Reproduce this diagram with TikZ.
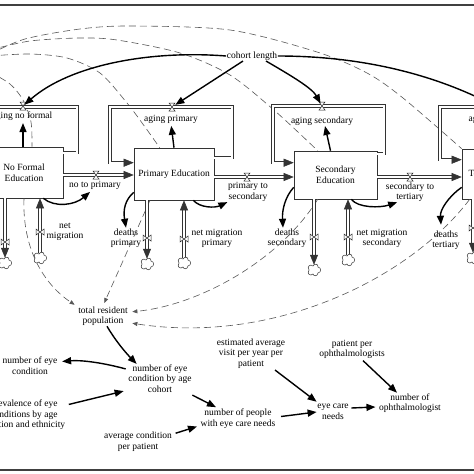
\documentclass[tikz,border=0pt]{standalone}
\usepackage{fontspec}
\setmainfont{Liberation Serif}
\usetikzlibrary{arrows.meta,calc}
\begin{document}
\begin{tikzpicture}[x=1pt,y=-1pt,
 lbl/.style={font=\fontsize{9.5}{10.5}\selectfont, align=center, inner sep=0.5pt},
 stock/.style={draw=black!80, line width=0.6pt, fill=white, font=\fontsize{9.5}{11}\selectfont, align=center, inner sep=0pt},
 pipe/.style={draw=black!80, line width=0.55pt, double=white, double distance=2pt},
 ptip/.style={-{Triangle[length=10pt,width=8pt]}},
 link/.style={line width=1.4pt, -{Triangle[length=9pt,width=7pt]}},
 dlink/.style={draw=black!65, line width=0.6pt, dash pattern=on 7pt off 4pt},
 dtip/.style={-{Triangle[length=5pt,width=4pt]}},
 cloudy/.style={circle, minimum size=10pt, inner sep=0pt},
 cloudpic/.pic={\draw[draw=black!80, fill=white, line width=0.5pt]
   (-5,0) .. controls (-7.5,-3.5) and (-3.5,-6.5) .. (-1,-4)
   .. controls (0,-6.5) and (4.5,-6.5) .. (4,-3)
   .. controls (7.5,-2.5) and (7.5,2.5) .. (4,3)
   .. controls (3.5,6.5) and (-0.5,6.5) .. (-1,4)
   .. controls (-3.5,6.5) and (-7.5,4) .. (-5,0) -- cycle;},
 valveh/.pic={\draw[draw=black!85, fill=white, line width=0.5pt] (-3,-4) -- (3,-4) -- (-3,4) -- (3,4) -- cycle;},
 valvev/.pic={\draw[draw=black!85, fill=white, line width=0.5pt] (-4,-3) -- (-4,3) -- (4,-3) -- (4,3) -- cycle;}
]
\useasboundingbox (0,0) rectangle (474,474);
\fill[white] (0,0) rectangle (474,474);
\clip (0,0) rectangle (474,474);

% frame lines
\draw[line width=1.5pt, black!75] (0,5) -- (474,5);
\draw[line width=2pt, black!75] (0,470) -- (474,470);

% stocks
\node[stock, minimum width=78pt, minimum height=51pt] (nf) at (24,172.5) {No Formal\\Education};
\node[stock, minimum width=80pt, minimum height=52pt] (pe) at (174,174) {Primary Education};
\node[stock, minimum width=83pt, minimum height=48pt] (se) at (335.5,175) {Secondary\\Education};
\node[stock, minimum width=84pt, minimum height=50pt] (te) at (504,174) {Tertiary Education};

% valve positions
\coordinate (vanf) at (23,106);
\coordinate (vap) at (172,107);
\coordinate (vas) at (322,106);
\coordinate (vat) at (497,107);
\coordinate (vntp) at (96,175);
\coordinate (vpts) at (247,177);
\coordinate (vstt) at (410,177);

% labels
\node[lbl] (cl) at (252,56) {cohort length};
\node[lbl] (agnf) at (22,116) {aging no formal};
\node[lbl] (agp) at (171,119) {aging primary};
\node[lbl] (ags) at (322,121) {aging secondary};
\node[lbl] (agt) at (494,119) {aging tertiary};
\node[lbl] (ntp) at (95,185) {no to primary};
\node[lbl] (pts) at (248,192) {primary to\\secondary};
\node[lbl] (stt) at (410,192) {secondary to\\tertiary};
\node[lbl] (dp) at (126,238) {deaths\\primary};
\node[lbl] (ds) at (287,238) {deaths\\secondary};
\node[lbl] (dt) at (446,240) {deaths\\tertiary};
\node[lbl] (nm) at (65,232) {net\\migration};
\node[lbl] (nmp) at (217,238.5) {net migration\\primary};
\node[lbl] (nms) at (382,238.5) {net migration\\secondary};
\node[lbl] (trp) at (103,316) {total resident\\population};
\node[lbl] (noe) at (30,365.5) {number of eye\\condition};
\node[lbl] (noeac) at (160,378.5) {number of eye\\condition by age\\cohort};
\node[lbl] (prev) at (24,415) {prevalence of eye\\conditions by age\\location and ethnicity};
\node[lbl] (acpp) at (138,441.5) {average condition\\per patient};
\node[lbl] (nop) at (238,418.5) {number of people\\with eye care needs};
\node[lbl] (eava) at (251,353.5) {estimated average\\visit per year per\\patient};
\node[lbl] (ppo) at (352,349.5) {patient per\\ophthalmologists};
\node[lbl] (ecn) at (333,412) {eye care\\needs};
\node[lbl] (noo) at (410,403) {number of\\ophthalmologist};

% dashed links along the top (to variables off the picture)
\draw[dlink] plot[smooth] coordinates {(-10,54) (25,39) (80,29) (130,26) (230,30) (317,52) (367,73) (403,98) (te.north west)};
\draw[dlink] plot[smooth] coordinates {(-10,50) (30,41) (80,38) (117,40) (180,53) (230,75) (275,111) ($(se.north west)+(24,0)$)};
\draw[dlink] plot[smooth] coordinates {(-10,56) (30,54) (67,58) (100,73) (127,103) (145,127) ($(pe.north west)+(26,0)$)};
\draw[dlink] plot[smooth] coordinates {(-10,72) (10,84) (23,100) (31,122) ($(nf.north)+(8,0)$)};

% dashed links to total resident population
\draw[dlink, dtip] (nf.south) .. controls (22,250) and (45,285) .. ($(trp.north west)+(-3,-1)$);
\draw[dlink, dtip, shorten >=3pt] ($(pe.south)+(-24,0)$) -- (trp.north);
\draw[dlink, dtip] ($(se.south west)+(24,0)$) .. controls (280,260) and (200,305) .. ($(trp.north east)+(4,6)$);
\draw[dlink, dtip] ($(te.south west)+(8,0)$) .. controls (410,278) and (275,345) .. ($(trp.south east)+(4,-3)$);

% aging loops
\draw[pipe] ($(nf.north east)+(0,6)$) -- ++(14,0) |- (-40,107);
\draw[pipe, ptip] ($(pe.north east)+(0,10)$) -- ++(18,0) |- (110,107) |- ($(pe.north west)+(0,15)$);
\draw[pipe, ptip] ($(se.north east)+(0,3)$) -- ++(7,0) |- (273,106) |- ($(se.north west)+(0,12)$);
\draw[pipe, ptip] (560,107) -- (440,107) |- ($(te.north west)+(0,11)$);

% flows between stocks
\draw[pipe, ptip] (nf.east |- vntp) -- (pe.west |- vntp);
\draw[pipe, ptip] (pe.east |- vpts) -- (se.west |- vpts);
\draw[pipe, ptip] (se.east |- vstt) -- (te.west |- vstt);

% clouds (sources and sinks)
\node[cloudy] (cnf) at (5,263) {};
\node[cloudy] (cp) at (147,264) {};
\node[cloudy] (cs) at (314,270) {};
\node[cloudy] (ct) at (473,258) {};
\node[cloudy] (cnm) at (40,258) {};
\node[cloudy] (cnmp) at (184,263) {};
\node[cloudy] (cnms) at (348,260) {};

% outflows (deaths)
\draw[pipe, ptip] (nf.south -| cnf) -- (cnf.north);
\draw[pipe, ptip] (pe.south -| cp) -- (cp.north);
\draw[pipe, ptip] (se.south -| cs) -- (cs.north);
\draw[pipe, ptip] (te.south -| ct) -- (ct.north);
% inflows (net migration)
\draw[pipe, ptip] (cnm.north) -- (cnm.north |- nf.south);
\draw[pipe, ptip] (cnmp.north) -- (cnmp.north |- pe.south);
\draw[pipe, ptip] (cnms.north) -- (cnms.north |- se.south);

\pic at (cnf) {cloudpic};
\pic at (cp) {cloudpic};
\pic at (cs) {cloudpic};
\pic at (ct) {cloudpic};
\pic at (cnm) {cloudpic};
\pic at (cnmp) {cloudpic};
\pic at (cnms) {cloudpic};

% valves
\pic at (vanf) {valveh};
\pic at (vap) {valveh};
\pic at (vas) {valveh};
\pic at (vat) {valveh};
\pic at (vntp) {valveh};
\pic at (vpts) {valveh};
\pic at (vstt) {valveh};
\pic at (5,242) {valvev};
\pic at (147,238) {valvev};
\pic at (314,237) {valvev};
\pic at (473,228) {valvev};
\pic at (40,232) {valvev};
\pic at (184,239) {valvev};
\pic at (348,237) {valvev};

% cohort length links
\draw[link, shorten >=2pt] (cl.west) .. controls (150,50) and (70,65) .. (vanf);
\draw[link, shorten >=4pt] ($(cl.south)+(-9,0)$) -- (vap);
\draw[link, shorten >=3pt] ($(cl.south)+(14,0)$) .. controls (290,75) and (312,88) .. (vas);
\draw[link] (cl.east) .. controls (370,56) and (440,78) .. (vat);

% stock to aging flow
\draw[link, shorten >=2pt] (nf.north -| vanf) -- (agnf.south -| vanf);
\draw[link, shorten >=2pt] (pe.north) -- (agp.south);
\draw[link] ($(se.north)+(-5,0)$) -- ($(ags.south)+(3,0)$);

% stock to flow links
\draw[link] ($(nf.south east)+(-20,0)$) .. controls (55,208) and (75,205) .. ($(ntp.south)+(-5,2)$);
\draw[link] ($(pe.south east)+(-21,0)$) .. controls (200,208) and (215,208) .. (pts.south west);
\draw[link] ($(se.south east)+(-26,0)$) .. controls (358,208) and (380,208) .. ($(stt.south west)+(12,0)$);

% deaths links
\draw[link] ($(pe.south west)+(0,-8)$) .. controls (125,200) and (123,210) .. (dp.north);
\draw[link] ($(se.south west)+(0,-12)$) .. controls (285,197) and (282,210) .. ($(ds.north)+(-4,0)$);
\draw[link] ($(te.south west)+(0,-12)$) .. controls (448,197) and (440,210) .. ($(dt.north)+(-5,-5)$);

% lower causal links
\draw[link] ($(trp.south)+(4,0)$) .. controls (115,340) and (125,352) .. ($(noeac.north west)+(9,0)$);
\draw[link] ($(noeac.north west)+(-2,5)$) .. controls (100,362) and (80,360) .. ($(noe.east)+(4,-4)$);
\draw[link] ($(prev.north east)+(3,5)$) -- ($(noeac.south west)+(-4,-2)$);
\draw[link] ($(noeac.south east)+(0,2)$) -- ($(nop.north west)+(16,-1)$);
\draw[link] ($(acpp.north east)+(3,2)$) -- ($(nop.west)+(-3,8)$);
\draw[link] ($(nop.east)+(5,-2)$) -- (ecn.west);
\draw[link] ($(eava.south)+(24,1)$) -- ($(ecn.north west)+(0,-2)$);
\draw[link] ($(ecn.east)+(2,-4)$) -- ($(noo.west)+(-3,4)$);
\draw[link] ($(ppo.south)+(11,1)$) -- ($(noo.north)+(-13,0)$);
\end{tikzpicture}
\end{document}
